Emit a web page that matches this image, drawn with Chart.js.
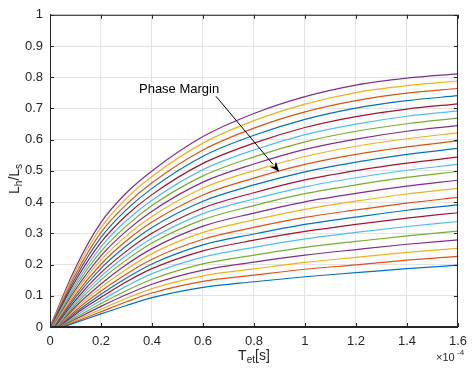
<!DOCTYPE html>
<html>
<head>
<meta charset="utf-8">
<script src="https://cdn.jsdelivr.net/npm/chart.js@4/dist/chart.umd.min.js"></script>
<style>
  html, body { margin: 0; padding: 0; background: #fff; }
  #wrap { width: 474px; height: 375px; }
</style>
</head>
<body>
<div id="wrap"><canvas id="lh-chart" width="474" height="375"></canvas></div>
<script>
// x in units of 1e-4 s
const xGrid = [0.1, 0.2, 0.3, 0.4, 0.6, 0.8, 1.0, 1.2, 1.4, 1.6];
// where each curve leaves the x axis (bottom curve first)
const startX = [0.05, 0.048, 0.046, 0.044, 0.042, 0.04, 0.038, 0.036, 0.034, 0.032, 0.03, 0.027, 0.024,
                0.021, 0.018, 0.015, 0.012, 0.01, 0.008, 0.006, 0.004, 0.003, 0.002, 0.001, 0];
// Lh/Ls per curve, bottom to top, at xGrid
const curveValues = [
  [0.014, 0.042, 0.069, 0.094, 0.127, 0.145, 0.161, 0.174, 0.187, 0.198],
  [0.017, 0.049, 0.081, 0.109, 0.146, 0.166, 0.185, 0.199, 0.214, 0.226],
  [0.021, 0.057, 0.092, 0.123, 0.164, 0.186, 0.207, 0.223, 0.239, 0.252],
  [0.025, 0.066, 0.104, 0.137, 0.182, 0.208, 0.230, 0.248, 0.265, 0.279],
  [0.030, 0.075, 0.117, 0.153, 0.202, 0.230, 0.255, 0.274, 0.292, 0.307],
  [0.035, 0.085, 0.131, 0.171, 0.224, 0.255, 0.282, 0.303, 0.322, 0.338],
  [0.041, 0.095, 0.145, 0.187, 0.244, 0.278, 0.306, 0.329, 0.349, 0.366],
  [0.046, 0.105, 0.157, 0.202, 0.263, 0.298, 0.329, 0.352, 0.374, 0.391],
  [0.052, 0.115, 0.170, 0.217, 0.281, 0.319, 0.351, 0.375, 0.397, 0.415],
  [0.058, 0.127, 0.185, 0.235, 0.303, 0.343, 0.377, 0.403, 0.426, 0.444],
  [0.065, 0.138, 0.200, 0.251, 0.323, 0.365, 0.401, 0.428, 0.451, 0.470],
  [0.072, 0.151, 0.215, 0.269, 0.344, 0.389, 0.427, 0.455, 0.479, 0.498],
  [0.079, 0.162, 0.229, 0.284, 0.363, 0.410, 0.449, 0.478, 0.502, 0.521],
  [0.086, 0.174, 0.243, 0.300, 0.381, 0.430, 0.471, 0.501, 0.525, 0.544],
  [0.095, 0.188, 0.260, 0.319, 0.403, 0.455, 0.497, 0.528, 0.553, 0.572],
  [0.103, 0.201, 0.276, 0.336, 0.423, 0.477, 0.521, 0.553, 0.577, 0.596],
  [0.112, 0.215, 0.292, 0.354, 0.445, 0.501, 0.546, 0.579, 0.603, 0.622],
  [0.120, 0.228, 0.308, 0.371, 0.464, 0.522, 0.569, 0.602, 0.627, 0.645],
  [0.129, 0.242, 0.324, 0.389, 0.484, 0.545, 0.593, 0.627, 0.651, 0.669],
  [0.138, 0.257, 0.341, 0.406, 0.504, 0.567, 0.616, 0.650, 0.675, 0.692],
  [0.148, 0.271, 0.358, 0.424, 0.524, 0.589, 0.639, 0.674, 0.698, 0.715],
  [0.158, 0.287, 0.376, 0.444, 0.547, 0.614, 0.665, 0.701, 0.725, 0.741],
  [0.168, 0.303, 0.393, 0.462, 0.567, 0.637, 0.689, 0.725, 0.749, 0.764],
  [0.179, 0.319, 0.412, 0.482, 0.589, 0.661, 0.714, 0.751, 0.773, 0.788],
  [0.190, 0.335, 0.430, 0.500, 0.610, 0.684, 0.738, 0.775, 0.797, 0.811]
];
const xTickLabels = ['0', '0.2', '0.4', '0.6', '0.8', '1', '1.2', '1.4', '1.6'];
const yTickLabels = ['0', '0.1', '0.2', '0.3', '0.4', '0.5', '0.6', '0.7', '0.8', '0.9', '1'];
const lineColors = ['#0072BD', '#D95319', '#EDB120', '#7E2F8E', '#77AC30', '#4DBEEE', '#A2142F'];

const FONT = '"Liberation Sans", Arial, Helvetica, sans-serif';
const INK = '#262626';

const datasets = curveValues.map((vals, i) => ({
    label: 'curve ' + (i + 1),
    data: [{ x: startX[i], y: 0 }].concat(xGrid.map((x, j) => ({ x: x, y: vals[j] }))),
    borderColor: lineColors[i % lineColors.length],
    borderWidth: 1.2,
    pointRadius: 0,
    fill: false,
    cubicInterpolationMode: 'monotone',
}));

function drawParts(ctx, parts, x, y, size) {
    // parts: [text, 'sub'|'sup'|'']
    const sizes = parts.map(p => p[1] ? size * 0.72 : size);
    let total = 0;
    parts.forEach((p, k) => { ctx.font = sizes[k] + 'px ' + FONT; total += ctx.measureText(p[0]).width; });
    let cx = x - total / 2;
    parts.forEach((p, k) => {
        ctx.font = sizes[k] + 'px ' + FONT;
        let dy = 0;
        if (p[1] === 'sub') dy = size * 0.3;
        if (p[1] === 'sup') dy = -size * 0.4;
        ctx.fillText(p[0], cx, y + dy);
        cx += ctx.measureText(p[0]).width;
    });
}

const matlabBox = {
    id: 'matlabBox',
    afterDatasetsDraw(chart) {
        const { ctx, chartArea: a, scales } = chart;
        ctx.save();
        ctx.strokeStyle = INK;
        ctx.lineWidth = 1;
        ctx.strokeRect(a.left + 0.5, a.top + 0.5, a.right - a.left - 1, a.bottom - a.top - 1);
        const t = 4;
        ctx.beginPath();
        scales.x.ticks.forEach(tk => {
            const px = Math.round(scales.x.getPixelForValue(tk.value)) + 0.5;
            ctx.moveTo(px, a.bottom); ctx.lineTo(px, a.bottom - t);
            ctx.moveTo(px, a.top); ctx.lineTo(px, a.top + t);
        });
        scales.y.ticks.forEach(tk => {
            const py = Math.round(scales.y.getPixelForValue(tk.value)) + 0.5;
            ctx.moveTo(a.left, py); ctx.lineTo(a.left + t, py);
            ctx.moveTo(a.right, py); ctx.lineTo(a.right - t, py);
        });
        ctx.stroke();
        ctx.restore();
    },
    afterDraw(chart) {
        const { ctx, chartArea: a, scales } = chart;
        const sx = scales.x, sy = scales.y;
        ctx.save();
        ctx.fillStyle = INK;
        ctx.textBaseline = 'middle';
        ctx.textAlign = 'left';

        // axis titles
        drawParts(ctx, [['T', ''], ['et', 'sub'], ['[s]', '']], (a.left + a.right) / 2, 356, 14);
        ctx.save();
        ctx.translate(15, (a.top + a.bottom) / 2 + 8);
        ctx.rotate(-Math.PI / 2);
        drawParts(ctx, [['L', ''], ['h', 'sub'], ['/L', ''], ['s', 'sub']], 0, 0, 14);
        ctx.restore();

        // exponent label
        ctx.font = '11px ' + FONT;
        ctx.fillText('\u00d710', a.right - 22, 358);
        ctx.font = '8px ' + FONT;
        ctx.fillText('-4', a.right - 1, 353);

        // annotation
        ctx.font = '13px ' + FONT;
        ctx.fillStyle = '#000';
        ctx.fillText('Phase Margin', sx.getPixelForValue(0.349), sy.getPixelForValue(0.761));
        const x0 = sx.getPixelForValue(0.651), y0 = sy.getPixelForValue(0.739);
        const x1 = sx.getPixelForValue(0.899), y1 = sy.getPixelForValue(0.497);
        const ang = Math.atan2(y1 - y0, x1 - x0);
        const hl = 10, hw = 4;
        ctx.strokeStyle = '#000';
        ctx.lineWidth = 1;
        ctx.beginPath();
        ctx.moveTo(x0, y0);
        ctx.lineTo(x1 - hl * Math.cos(ang), y1 - hl * Math.sin(ang));
        ctx.stroke();
        ctx.beginPath();
        ctx.moveTo(x1, y1);
        ctx.lineTo(x1 - hl * Math.cos(ang) + hw * Math.sin(ang), y1 - hl * Math.sin(ang) - hw * Math.cos(ang));
        ctx.lineTo(x1 - 0.7 * hl * Math.cos(ang), y1 - 0.7 * hl * Math.sin(ang));
        ctx.lineTo(x1 - hl * Math.cos(ang) - hw * Math.sin(ang), y1 - hl * Math.sin(ang) + hw * Math.cos(ang));
        ctx.closePath();
        ctx.fill();
        ctx.restore();
    }
};

const ctx = document.getElementById('lh-chart').getContext('2d');
const lhChart = new Chart(ctx, {
    type: 'line',
    data: { datasets: datasets },
    options: {
        responsive: false,
        animation: false,
        layout: { padding: { top: 5, right: 11, left: 0, bottom: 0 } },
        plugins: { legend: { display: false }, tooltip: { enabled: false } },
        scales: {
            x: {
                type: 'linear',
                min: 0,
                max: 1.6,
                ticks: {
                    stepSize: 0.2,
                    autoSkip: false,
                    maxRotation: 0,
                    padding: 7,
                    color: INK,
                    font: { family: FONT, size: 13 },
                    callback: v => xTickLabels[Math.round(v / 0.2)],
                },
                grid: { color: '#e3e3e3', drawTicks: false },
                border: { color: INK },
                afterFit: s => { s.height = 48; },
            },
            y: {
                min: 0,
                max: 1,
                ticks: {
                    stepSize: 0.1,
                    padding: 7,
                    color: INK,
                    font: { family: FONT, size: 13 },
                    callback: v => yTickLabels[Math.round(v * 10)],
                },
                grid: { color: '#e3e3e3', drawTicks: false },
                border: { color: INK },
                afterFit: s => { s.width = 50; },
            },
        },
    },
    plugins: [matlabBox],
});
</script>
</body>
</html>
